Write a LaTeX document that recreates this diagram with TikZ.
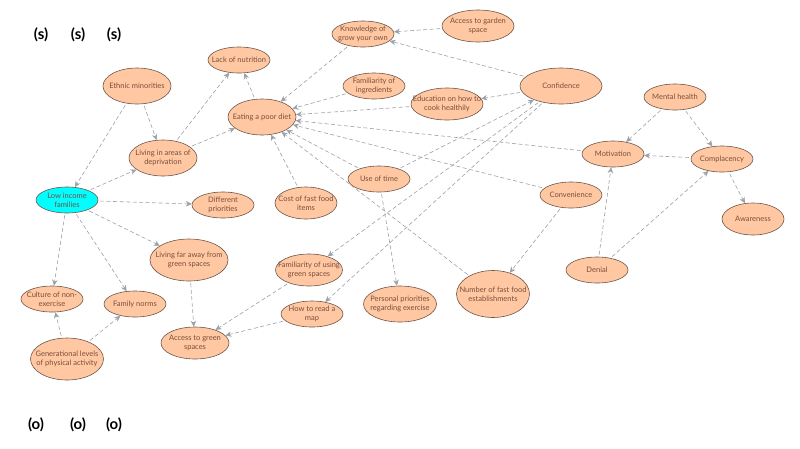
\documentclass[tikz,border=0pt]{standalone}
\usepackage{fontspec}
\setmainfont{Lato}
\usetikzlibrary{shapes.geometric,arrows.meta}
\definecolor{concfill}{HTML}{FFC8A2}
\definecolor{concline}{HTML}{6E5548}
\definecolor{conctext}{HTML}{7A4E3A}
\definecolor{linkline}{HTML}{9AA1A8}
\definecolor{startfill}{HTML}{00FFFF}
\tikzset{
	conc/.style={ellipse,draw=concline,fill=concfill,text=conctext,semithick,inner xsep=-50pt,inner ysep=-30pt,align=center,font=\fontsize{7.5}{9}\selectfont},
	sm/.style={conc,minimum width=62,minimum height=26},
	md/.style={conc,minimum width=72,minimum height=32},
	lg/.style={conc,minimum width=68,minimum height=36},
	link/.style={draw=linkline,semithick,dashed,dash pattern=on 4pt off 2.5pt,-{Stealth[length=6pt,width=5.5pt]},shorten <=2pt},
	tag/.style={font=\fontsize{15}{17}\selectfont\bfseries,text=black,inner sep=0pt}
}
\begin{document}
\begin{tikzpicture}[x=1pt,y=-1pt]
	\useasboundingbox (0,0) rectangle (800,448);
	\node [lg] (ethnic) at (137,86) {Ethnic minorities};
	\node [sm] (lack) at (239,60) {Lack of nutrition};
	\node [lg] (diet) at (262,117) {Eating a poor diet};
	\node [lg] (deprivation) at (163,158) {Living in areas of\\deprivation};
	\node [sm,fill=startfill] (lowincome) at (67,200) {Low income\\families};
	\node [sm] (different) at (223,205) {Different\\priorities};
	\node [md,minimum width=62] (cost) at (306,203) {Cost of fast food\\items};
	\node [sm] (knowledge) at (363,34) {Knowledge of\\grow your own};
	\node [md] (garden) at (478,26) {Access to garden\\space};
	\node [sm] (ingredients) at (374,86) {Familiarity of\\ingredients};
	\node [md] (education) at (447,104) {Education on how to\\cook healthily};
	\node [lg,minimum width=82] (confidence) at (561,86) {Confidence};
	\node [sm] (time) at (379,179) {Use of time};
	\node [sm] (convenience) at (571,195) {Convenience};
	\node [sm] (mental) at (675,97) {Mental health};
	\node [sm] (motivation) at (613,154) {Motivation};
	\node [sm] (complacency) at (722,159) {Complacency};
	\node [md,minimum width=62] (awareness) at (753,219) {Awareness};
	\node [sm] (denial) at (597,270) {Denial};
	\node [lg,minimum width=73,minimum height=47] (number) at (493,294) {Number of fast food\\establishments};
	\node [lg,minimum width=73] (personal) at (400,304) {Personal priorities\\regarding exercise};
	\node [md,minimum width=67] (usegreen) at (309,270) {Familiarity of using\\green spaces};
	\node [sm] (map) at (312,314) {How to read a\\map};
	\node [lg,minimum width=78,minimum height=42] (faraway) at (189,260) {Living far away from\\green spaces};
	\node [sm] (culture) at (52,299) {Culture of non-\\exercise};
	\node [sm] (family) at (135,304) {Family norms};
	\node [md,minimum width=68] (accessgreen) at (195,343) {Access to green\\spaces};
	\node [lg,minimum width=73,minimum height=42] (generational) at (67,359) {Generational levels\\of physical activity};
	\node [tag] (s1) at (41,35) {(s)};
	\node [tag] (s2) at (78,35) {(s)};
	\node [tag] (s3) at (114,35) {(s)};
	\node [tag] (o1) at (36,425) {(o)};
	\node [tag] (o2) at (78,425) {(o)};
	\node [tag] (o3) at (114,425) {(o)};
	\draw [link] (ethnic) to (lowincome);
	\draw [link] (ethnic) to (deprivation);
	\draw [link] (deprivation) to (lack);
	\draw [link] (deprivation) to (diet);
	\draw [link] (diet) to (lack);
	\draw [link] (lowincome) to (deprivation);
	\draw [link] (lowincome) to (different);
	\draw [link] (lowincome) to (culture);
	\draw [link] (lowincome) to (family);
	\draw [link] (lowincome) to (faraway);
	\draw [link] (faraway) to (accessgreen);
	\draw [link] (generational) to (culture);
	\draw [link] (generational) to (family);
	\draw [link] (usegreen) to (accessgreen);
	\draw [link] (map) to (accessgreen);
	\draw [link] (knowledge) to (diet);
	\draw [link] (garden) to (knowledge);
	\draw [link] (confidence) to (knowledge);
	\draw [link] (ingredients) to (diet);
	\draw [link] (education) to (diet);
	\draw [link] (confidence) to (education);
	\draw [link] (motivation) to (diet);
	\draw [link] (convenience) to (diet);
	\draw [link] (time) to (diet);
	\draw [link] (number) to (diet);
	\draw [link] (cost) to (diet);
	\draw [link] (time) to (confidence);
	\draw [link] (time) to (personal);
	\draw [link] (confidence) to (usegreen);
	\draw [link] (confidence) to (map);
	\draw [link] (convenience) to (number);
	\draw [link] (mental) to (motivation);
	\draw [link] (mental) to (complacency);
	\draw [link] (complacency) to (motivation);
	\draw [link] (complacency) to (awareness);
	\draw [link] (denial) to (motivation);
	\draw [link] (denial) to (complacency);
\end{tikzpicture}
\end{document}
